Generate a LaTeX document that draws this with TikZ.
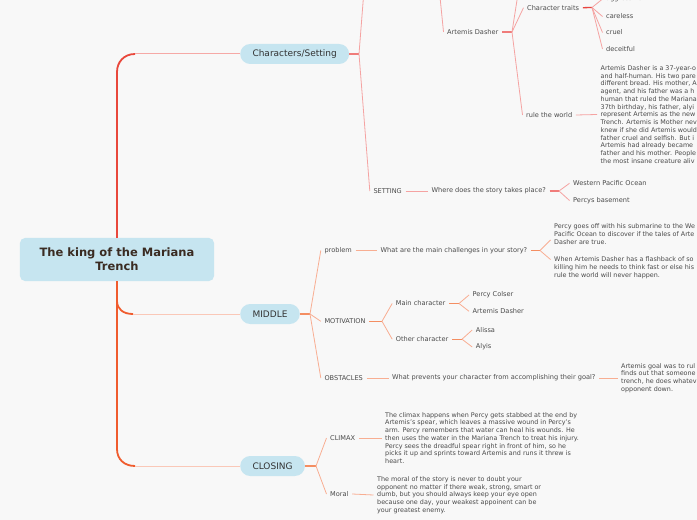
\documentclass[tikz,border=0pt]{standalone}
\usepackage{fontspec}
\setmainfont{DejaVu Sans}
\usetikzlibrary{calc}
\definecolor{bg}{HTML}{F8F8F8}
\definecolor{pill}{HTML}{C6E5F0}
\definecolor{trunkA}{HTML}{E9483C}
\definecolor{trunkB}{HTML}{F05C2E}
\definecolor{brtop}{HTML}{F6A9A6}
\definecolor{brlow}{HTML}{FAC8B8}
\definecolor{csl}{HTML}{F5A3A2}
\definecolor{css}{HTML}{F07C7A}
\definecolor{trs}{HTML}{E8453F}
\definecolor{mdl}{HTML}{F8AE92}
\definecolor{mds}{HTML}{F48E62}
\definecolor{txt}{HTML}{4A4A4A}
\definecolor{ttl}{HTML}{3A2B22}
\tikzset{
  lbl/.style={anchor=west, inner xsep=3.5bp, inner ysep=1bp, text=txt, font=\fontsize{6.6bp}{8bp}\selectfont},
  blk/.style={anchor=west, inner xsep=3.5bp, inner ysep=0bp, text=txt, align=left, font=\fontsize{6.4bp}{7.75bp}\selectfont},
  pillnode/.style={anchor=west, fill=pill, rounded corners=10bp, minimum height=20bp, inner xsep=12.3bp, inner ysep=0bp, text=black!80, font=\fontsize{9bp}{11bp}\selectfont},
  rootnode/.style={fill=pill, rounded corners=5bp, minimum width=194bp, minimum height=43bp, align=center, text=ttl, font=\fontsize{11.5bp}{14.4bp}\selectfont\bfseries},
  trunk/.style={line width=1.8bp},
  thin/.style={line width=0.8bp},
  stub/.style={line width=1.3bp}
}
\begin{document}
\begin{tikzpicture}[x=1bp,y=-1bp]
\useasboundingbox (0,0) rectangle (697,520);
\clip (0,0) rectangle (697,520);
\fill[bg] (0,0) rectangle (697,520);

% root and main branches
\node[rootnode] (root) at (117,259.5) {The king of the Mariana\\Trench};
\node[pillnode] (cs) at (240,54) {Characters/Setting};
\node[pillnode] (mid) at (240,314) {MIDDLE};
\node[pillnode] (clo) at (240,466) {CLOSING};

\coordinate (b1a) at (117,72);
\coordinate (b1b) at (135,54);
\coordinate (b2a) at (117,301);
\coordinate (b2b) at (133,314);
\coordinate (b3a) at (117,449);
\coordinate (b3b) at (135,466);
\draw[trunkA,trunk] (root.north) -- (b1a) .. controls (117,62) and (124,54) .. (b1b);
\draw[brtop,line width=1bp] (b1b) -- (cs.west);
\draw[trunkB,trunk] (root.south) -- (b3a) .. controls (117,459) and (124,466) .. (b3b);
\draw[trunkB,trunk] (b2a) .. controls (117,309) and (123,314) .. (b2b);
\draw[brlow,line width=1bp] (b2b) -- (mid.west);
\draw[brlow,line width=1bp] (b3b) -- (clo.west);

% Characters/Setting subtree
\coordinate (f0) at (359,54);
\coordinate (off0) at (364,-10);
\draw[css,stub] (cs.east) -- (f0);
\draw[csl,thin] (f0) -- (off0);
\node[lbl] (set) at (369.8,191) {SETTING};
\draw[csl,thin] (f0) -- (set.west);

\coordinate (offA) at (439.3,-10);
\node[lbl] (ad) at (443.5,32) {Artemis Dasher};
\draw[csl,thin] (offA) -- (ad.west);
\coordinate (f1) at (512,32);
\coordinate (offB) at (518.6,-10);
\draw[css,stub] (ad.east) -- (f1);
\draw[csl,thin] (f1) -- (offB);
\node[lbl] (ct) at (523.5,7.7) {Character traits};
\node[lbl] (rw) at (522.5,115) {rule the world};
\draw[csl,thin] (f1) -- (ct.west);
\draw[csl,thin] (f1) -- (rw.west);

\coordinate (f2) at (592,7.5);
\draw[trs,stub] (ct.east) -- (f2);
\node[lbl] (t1) at (602.5,-1) {aggressive};
\node[lbl] (t2) at (602.5,16.5) {careless};
\node[lbl] (t3) at (602.5,32.5) {cruel};
\node[lbl] (t4) at (602.5,49) {deceitful};
\foreach \t in {t1,t2,t3,t4} \draw[csl,thin] (f2) -- (\t.west);

\node[blk] (rwt) at (597,114.5) {Artemis Dasher is a 37-year-o\\and half-human. His two pare\\different bread. His mother, A\\agent, and his father was a h\\human that ruled the Mariana\\37th birthday, his father, alyi\\represent Artemis as the new\\Trench. Artemis is Mother nev\\knew if she did Artemis would\\father cruel and selfish.  But i\\Artemis had already became\\father and his mother. People\\the most insane creature aliv};
\draw[csl,thin] (rw.east) -- (rwt.west);

\node[lbl] (wh) at (428,191) {Where does the story takes place?};
\draw[csl,thin] (set.east) -- (wh.west);
\coordinate (f3) at (559,191);
\draw[css,stub] (wh.east) -- (f3);
\node[lbl] (wp) at (569.5,183.3) {Western Pacific Ocean};
\node[lbl] (pb) at (569.5,200.5) {Percys basement};
\draw[csl,thin] (f3) -- (wp.west);
\draw[csl,thin] (f3) -- (pb.west);

% MIDDLE subtree
\coordinate (f4) at (310,314);
\draw[mds,stub] (mid.east) -- (f4);
\node[lbl] (pr) at (320.8,250.5) {problem};
\node[lbl] (mo) at (320.8,321.3) {MOTIVATION};
\node[lbl] (ob) at (320.8,378) {OBSTACLES};
\foreach \t in {pr,mo,ob} \draw[mdl,thin] (f4) -- (\t.west);

\node[lbl] (q1) at (377,250.5) {What are the main challenges in your story?};
\draw[mdl,thin] (pr.east) -- (q1.west);
\coordinate (f5) at (540,250.5);
\draw[mds,stub] (q1.east) -- (f5);
\node[blk] (p1) at (550.5,234.3) {Percy goes off with his submarine to the We\\Pacific Ocean to discover if the tales of Arte\\Dasher are true.};
\node[blk] (p2) at (550.5,267.5) {When Artemis Dasher has a flashback of so\\killing him he needs to think fast or else his\\rule the world will never happen.};
\draw[mdl,thin] (f5) -- ([yshift=-5.7bp]p1.west);
\draw[mdl,thin] (f5) -- ([yshift=8bp]p2.west);

\coordinate (f6) at (382,321.3);
\draw[mds,stub] (mo.east) -- (f6);
\node[lbl] (mc) at (392.2,303.5) {Main character};
\node[lbl] (oc) at (392.2,339.2) {Other character};
\draw[mdl,thin] (f6) -- (mc.west);
\draw[mdl,thin] (f6) -- (oc.west);
\coordinate (f7) at (459,303.5);
\draw[mds,stub] (mc.east) -- (f7);
\node[lbl] (pc) at (469,295) {Percy Colser};
\node[lbl] (ad2) at (469,311.3) {Artemis Dasher};
\draw[mdl,thin] (f7) -- (pc.west);
\draw[mdl,thin] (f7) -- (ad2.west);
\coordinate (f8) at (462,339.2);
\draw[mds,stub] (oc.east) -- (f8);
\node[lbl] (al) at (472.2,330) {Alissa};
\node[lbl] (ay) at (472.2,347) {Alyis};
\draw[mdl,thin] (f8) -- (al.west);
\draw[mdl,thin] (f8) -- (ay.west);

\node[lbl] (q2) at (388.5,378) {What prevents your character from accomplishing their goal?};
\draw[mdl,thin] (ob.east) -- (q2.west);
\node[blk] (p3) at (617.5,378) {Artemis goal was to rul\\finds out that someone\\trench, he does whatev\\opponent down.};
\draw[mdl,thin] (q2.east) -- (p3.west);

% CLOSING subtree
\coordinate (f9) at (316,466);
\draw[mds,stub] (clo.east) -- (f9);
\node[lbl] (cl) at (326.5,438) {CLIMAX};
\node[lbl] (mr) at (326.5,494) {Moral};
\draw[mdl,thin] (f9) -- (cl.west);
\draw[mdl,thin] (f9) -- (mr.west);
\node[blk] (p4) at (381.5,438) {The climax happens when Percy gets stabbed at the end by\\Artemis's spear, which leaves a massive wound in Percy's\\arm. Percy remembers that water can heal his wounds. He\\then uses the water in the Mariana Trench to treat his injury.\\Percy sees the dreadful spear right in front of him, so he\\picks it up and sprints toward Artemis and runs it threw is\\heart.};
\draw[mdl,thin] (cl.east) -- (p4.west);
\node[blk] (p5) at (373.5,495) {The moral of the story is never to doubt your\\opponent no matter if there weak, strong, smart or\\dumb, but you should always keep your eye open\\because one day, your weakest appoinent can be\\your greatest enemy.};
\draw[mdl,thin] (mr.east) -- (p5.west);
\end{tikzpicture}
\end{document}
